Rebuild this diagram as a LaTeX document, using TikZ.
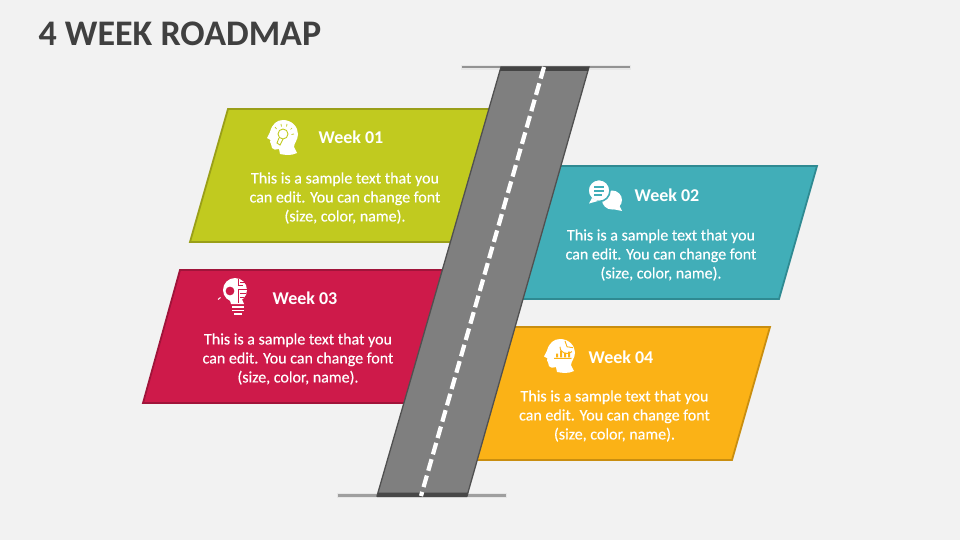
\documentclass[tikz,border=0pt]{standalone}
\usepackage{fontspec}
\setmainfont{Carlito}
\newfontfamily\cardfont[FakeBold=0.25]{Carlito}
\usepackage{xcolor}
\usetikzlibrary{positioning}
\definecolor{pagegray}{HTML}{F2F2F2}
\definecolor{titlegray}{HTML}{404040}
\definecolor{roadgray}{HTML}{7F7F7F}
\definecolor{roadedge}{HTML}{505050}
\definecolor{weekgreen}{HTML}{C1CA1F}
\definecolor{weekgreenedge}{HTML}{9A9F18}
\definecolor{weekteal}{HTML}{41AEB8}
\definecolor{weektealedge}{HTML}{2F8A92}
\definecolor{weekred}{HTML}{CE1A4A}
\definecolor{weekrededge}{HTML}{A0143A}
\definecolor{weekorange}{HTML}{FBB216}
\definecolor{weekorangeedge}{HTML}{C98E10}
\newcommand{\headshape}{(3,12) .. controls (5,4) and (10,0) .. (16,0) .. controls (25,0) and (31,7) .. (31,14) .. controls (31,20) and (27,23) .. (27,27) -- (30,33) .. controls (24,36) and (18,35) .. (13,34) -- (12,29) .. controls (9,30) and (6,30) .. (5,28) -- (4,24) -- (3,22) -- (3.5,20) -- (0,18) -- cycle}
\tikzset{
    card/.style={line width=1.8pt},
    weeklabel/.style={text=white, font=\fontsize{18}{20}\selectfont\bfseries},
    cardtext/.style={text=white, align=center, font=\fontsize{16}{19}\selectfont\cardfont},
}

\begin{document}
\begin{tikzpicture}[x=1pt, y=-1pt]
\fill [pagegray] (0,0) rectangle (960,540);
\useasboundingbox (0,0) rectangle (960,540);
\node [text=titlegray, font=\fontsize{36}{40}\selectfont\bfseries, anchor=west] (title) at (35,34) {4 WEEK ROADMAP};
% cards
\draw [card, fill=weekgreen, draw=weekgreenedge] (228,109) -- (500,109) -- (462,242) -- (190,242) -- cycle;
\draw [card, fill=weekteal, draw=weektealedge] (545,166) -- (817,166) -- (779,299) -- (507,299) -- cycle;
\draw [card, fill=weekred, draw=weekrededge] (180,270) -- (452,270) -- (415,403) -- (143,403) -- cycle;
\draw [card, fill=weekorange, draw=weekorangeedge] (498,327) -- (770,327) -- (732,460) -- (460,460) -- cycle;
% road
\draw [line width=5pt, pagegray!90!gray] (461,67.5) -- (631,67.5);
\draw [line width=2.4pt, gray!85] (462,67) -- (630,67);
\draw [line width=5pt, pagegray!90!gray] (337,495.5) -- (507,495.5);
\draw [line width=3pt, gray!75] (338,495.5) -- (506,495.5);
\draw [fill=roadgray, draw=roadedge, line width=1.3pt] (501,67) -- (589,67) -- (467,496) -- (377,496) -- cycle;
\fill [roadedge!85!black] (501,67) -- (589,67) -- (587.8,71) -- (499.8,71) -- cycle;
\fill [roadedge!90!black] (377,497) -- (467,497) -- (468.2,492.5) -- (378.2,492.5) -- cycle;
\draw [white, line width=4.2pt, dash pattern=on 12pt off 5pt] (544,67) -- (421,496);
% week 01
\node [weeklabel] (week1) at (351,137) {Week 01};
\node [cardtext] (text1) at (345,198) {This is a sample text that you\\can edit. You can change font\\(size, color, name).};
\begin{scope}[shift={(267,120)}]
\fill [white] \headshape;
\draw [weekgreen, line width=0.9pt] (16,14) circle (5);
\draw [weekgreen, line width=0.9pt] (12,18) -- (10,23) -- (13,25) -- (16,19);
\draw [weekgreen, line width=0.7pt] (14,4) -- (14.5,6.5) (20,4) -- (19.5,6.5) (25,8) -- (23.5,9.5) (27,14) -- (24.5,14.5) (8,7) -- (9.5,9);
\end{scope}
% week 02
\node [weeklabel] (week2) at (667,195) {Week 02};
\node [cardtext] (text2) at (661,255) {This is a sample text that you\\can edit. You can change font\\(size, color, name).};
\fill [white] (612,200) ellipse (10 and 9.5);
\fill [white] (619,205) -- (622,211) -- (612,209) -- cycle;
\draw [weekteal, line width=1.6pt, fill=white] (599,190.5) ellipse (11 and 11);
\fill [white] (592,198) -- (589,203.5) -- (598,201) -- cycle;
\draw [weekteal, line width=1.1pt] (594,187) -- (604,187) (594,191) -- (604,191) (594,195) -- (602,195);
% week 03
\node [weeklabel] (week3) at (305,298) {Week 03};
\node [cardtext] (text3) at (298,359) {This is a sample text that you\\can edit. You can change font\\(size, color, name).};
\fill [white] (235,290) circle (12);
\fill [white] (229,297) -- (241,297) -- (244,304) -- (231,304) -- cycle;
\draw [white, line width=1.5pt] (232,307) -- (244,307) (232,310.5) -- (244,310.5) (234,314) -- (242,314);
\draw [white, line width=1.8pt, fill=weekred] (230,291) circle (5.5);
\draw [white, line width=1pt] (218,299.5) -- (220.5,297.5);
\draw [weekred, line width=0.9pt] (238,279) -- (238,285) -- (243,285) (240,282) -- (245,282) (238,289) -- (247,289) (240,293) -- (246,293) (238,289) -- (238,303) (240,297) -- (244,297);
% week 04
\node [weeklabel] (week4) at (621,357) {Week 04};
\node [cardtext] (text4) at (614.5,416) {This is a sample text that you\\can edit. You can change font\\(size, color, name).};
\begin{scope}[shift={(544,339)}, yscale=0.97]
\fill [white] \headshape;
\draw [weekorange, line width=0.9pt] (21,2) -- (23,8) -- (29,9);
\draw [weekorange, line width=0.9pt] (16,8) .. controls (16,15) and (24,17) .. (28,13);
\fill [weekorange] (10,19.5) -- (28,19.5) -- (27,20.5) -- (10,20.5) -- cycle;
\fill [weekorange] (12,15) rectangle (14,19) (16,12) rectangle (18,19) (20,14) rectangle (22,19) (24,13) rectangle (26,19);
\end{scope}
\end{tikzpicture}
\end{document}
